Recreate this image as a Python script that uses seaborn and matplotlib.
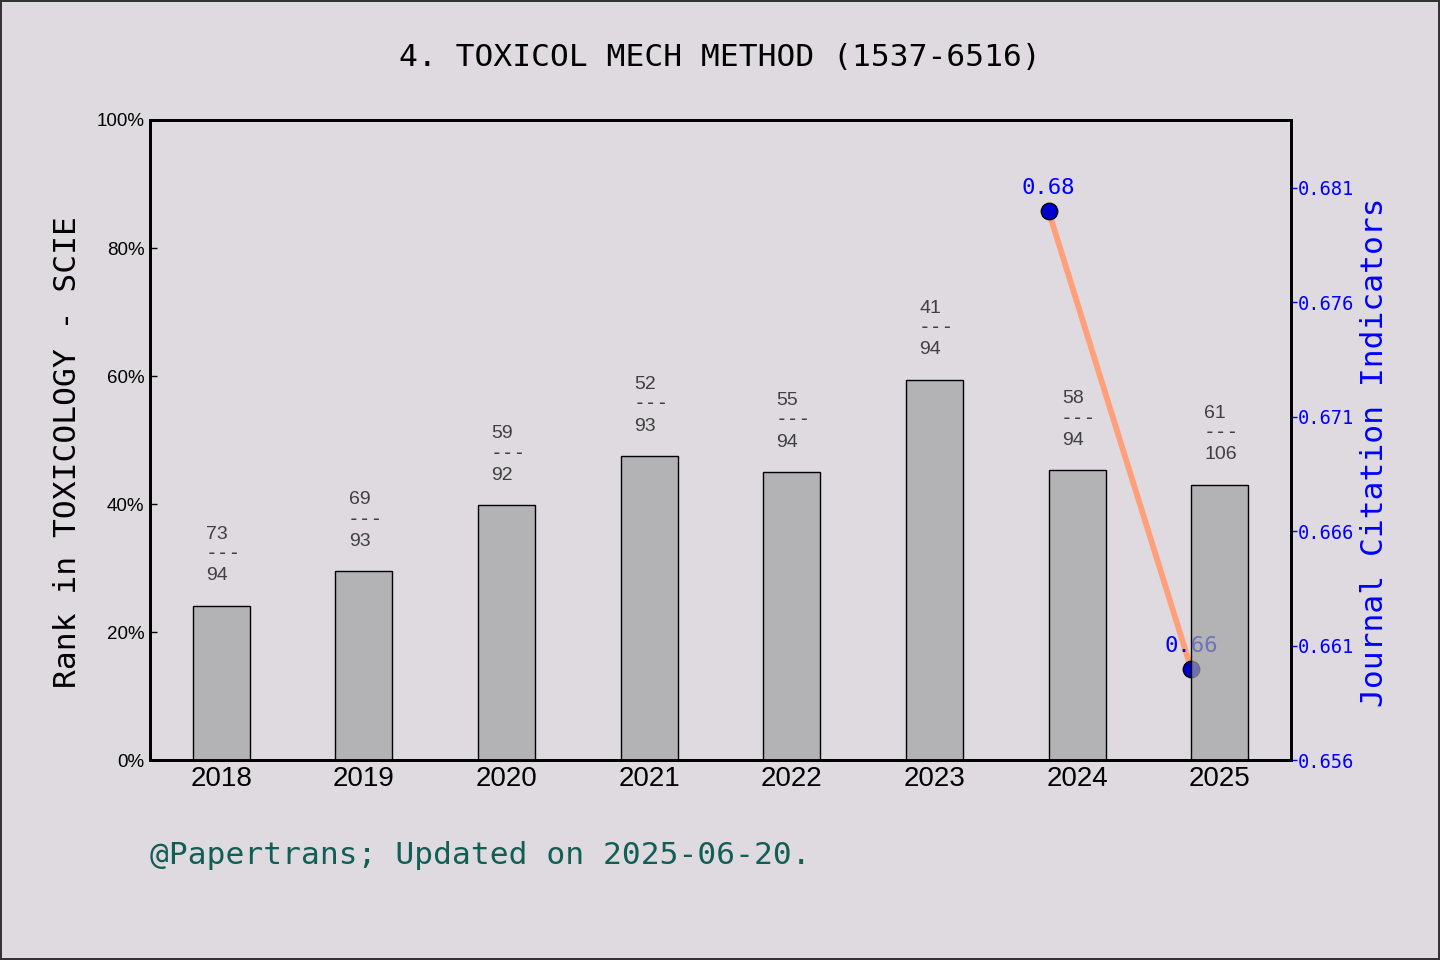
import numpy as np
import pandas as pd
import matplotlib
matplotlib.use("Agg")
import matplotlib.pyplot as plt
import seaborn as sns

years = ["2018", "2019", "2020", "2021", "2022", "2023", "2024", "2025"]
pct = [24.1, 29.5, 39.8, 47.5, 45.0, 59.4, 45.3, 43.0]
rank = ["73", "69", "59", "52", "55", "41", "58", "61"]
total = ["94", "93", "92", "93", "94", "94", "94", "106"]
jci_years = ["2024", "2025"]
jci = [0.680, 0.660]
jci_ticks = [0.656, 0.661, 0.666, 0.671, 0.676, 0.681]

sns.set_style("white")
plt.rcParams["text.color"] = "black"
plt.rcParams["axes.labelcolor"] = "black"
plt.rcParams["xtick.color"] = "black"
plt.rcParams["ytick.color"] = "black"
mono = "DejaVu Sans Mono"
sans = "Liberation Sans"

df = pd.DataFrame({"year": years, "pct": pct})

fig = plt.figure(figsize=(14.4, 9.6), dpi=100, facecolor="#dedae0",
                 edgecolor="#333333", linewidth=1.5)
ax = fig.add_axes([0.1042, 0.2083, 0.7923, 0.6667])
ax2 = ax.twinx()

# line on the twin axis, kept underneath the bars
xpos = np.array([years.index(y) for y in jci_years]) - 0.2
ax2.plot(xpos, jci, color="#ffa07a", lw=4.2, zorder=2)
ax2.scatter(xpos, jci, s=140, color="#0000cd", edgecolor="black", lw=1, zorder=3)
for x, v in zip(xpos, jci):
    ax2.annotate(f"{v:.2f}", (x, v), xytext=(0, 9), textcoords="offset points",
                 ha="center", va="bottom", color="blue", fontsize=16, family=mono)
ax2.set_ylim(0.656, 0.68397)
ax2.set_yticks(jci_ticks)
ax2.set_yticklabels([f"{t:.3f}" for t in jci_ticks], color="blue", fontsize=13.5, family=mono)
ax2.tick_params(axis="y", direction="out", length=4, width=1, color="blue", pad=1)
ax2.set_ylabel("Journal Citation Indicators", color="blue", fontsize=22.5, family=mono)
ax2.yaxis.set_label_coords(1.0605, 0.481)
ax2.set_facecolor("white")

ax.set_zorder(ax2.get_zorder() + 1)
ax.patch.set_visible(False)

sns.barplot(data=df, x="year", y="pct", ax=ax, width=0.4, color="#a0a1a4",
            saturation=1, edgecolor="black", linewidth=1)
for p in ax.patches:
    p.set_alpha(None)
    p.set_facecolor((0.63, 0.632, 0.645, 0.7))
    p.set_edgecolor("black")

# rank / total labels above each bar
for i, (r, t) in enumerate(zip(rank, total)):
    kw = dict(textcoords="offset points", ha="left", va="center", color="#404040")
    ax.annotate(r, (i, pct[i]), xytext=(-11, 51.5), fontsize=14, family=sans, **kw)
    ax.annotate("---", (i, pct[i]), xytext=(-11.5, 37.5), fontsize=14, family=mono, **kw)
    ax.annotate(t, (i, pct[i]), xytext=(-11, 21.5), fontsize=14, family=sans, **kw)

ax.set_xlim(-0.5, 7.5)
ax.set_ylim(0, 100)
ax.set_yticks([0, 20, 40, 60, 80, 100])
ax.set_yticklabels([f"{v}%" for v in [0, 20, 40, 60, 80, 100]], fontsize=13.5, family=sans)
ax.set_xticks(range(len(years)))
ax.set_xticklabels(years, fontsize=20, family=sans)
ax.set_xticks(np.arange(0.5, 7.5, 1), minor=True)
ax.tick_params(axis="x", which="major", length=0, pad=4)
ax.tick_params(axis="x", which="minor", direction="in", length=5, width=1)
ax.tick_params(axis="y", direction="in", length=5, width=1, pad=4)
ax.set_xlabel("")
ax.set_ylabel("Rank in TOXICOLOGY - SCIE", fontsize=22.5, family=mono)
ax.yaxis.set_label_coords(-0.0596, 0.481)
for a in (ax, ax2):
    for s in a.spines.values():
        s.set_linewidth(2)
        s.set_color("black")

fig.text(0.5, 0.94, "4. TOXICOL MECH METHOD (1537-6516)", ha="center", va="center",
         fontsize=22.5, family=mono)
fig.text(0.104, 0.109, "@Papertrans; Updated on 2025-06-20.", ha="left", va="center",
         fontsize=22.5, family=mono, color="#115e54")

fig.savefig("out.png", dpi=100, facecolor=fig.get_facecolor(), edgecolor=fig.get_edgecolor())
